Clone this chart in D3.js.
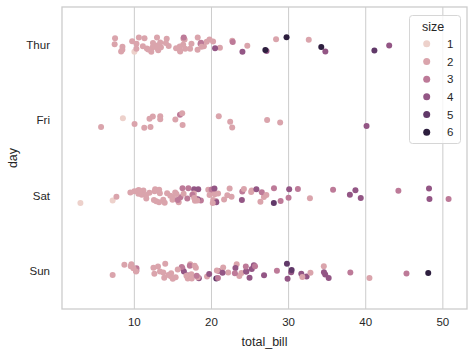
<!DOCTYPE html>
<html><head><meta charset="utf-8">
<script src="https://cdn.jsdelivr.net/npm/d3@7/dist/d3.min.js"></script>
<style>
html,body{margin:0;padding:0;background:#fff;}
text{font-family:"Liberation Sans",Arial,sans-serif;fill:#262626;}
</style></head><body>
<svg id="chart" width="474" height="356"></svg>
<script>
// ---- data (seaborn "tips" dataset) ----
const categories = ["Thur", "Fri", "Sat", "Sun"];
const sizeLevels = [1, 2, 3, 4, 5, 6];
const xTicks = [10, 20, 30, 40, 50];
const totalBill = [
16.99,10.34,21.01,23.68,24.59,25.29,8.77,26.88,15.04,14.78,10.27,35.26,15.42,18.43,14.83,21.58,10.33,16.29,16.97,
20.65,17.92,20.29,15.77,39.42,19.82,17.81,13.37,12.69,21.7,19.65,9.55,18.35,15.06,20.69,17.78,24.06,16.31,16.93,18.69,31.27,16.04,
17.46,13.94,9.68,30.4,18.29,22.23,32.4,28.55,18.04,12.54,10.29,34.81,9.94,25.56,19.49,
38.01,26.41,11.24,48.27,20.29,13.81,11.02,18.29,17.59,20.08,16.45,3.07,20.23,15.01,12.02,17.07,26.86,25.28,14.73,10.51,17.92,
27.2,22.76,17.29,19.44,16.66,10.07,32.68,15.98,34.83,13.03,18.28,24.71,21.16,
28.97,22.49,5.75,16.32,22.75,40.17,27.28,12.03,21.01,12.46,11.35,15.38,
44.3,22.42,20.92,15.36,20.49,25.21,18.24,14.31,14.0,7.25,
38.07,23.95,25.71,17.31,29.93,
10.65,12.43,24.08,11.69,13.42,14.26,15.95,12.48,29.8,8.52,14.52,11.38,22.82,19.08,20.27,11.17,12.26,18.26,8.51,10.33,14.15,16.0,13.16,17.47,34.3,41.19,27.05,16.43,8.35,18.64,11.87,9.78,7.51,
14.07,13.13,17.26,24.55,19.77,29.85,48.17,25.0,13.39,16.49,21.5,12.66,16.21,13.81,17.51,24.52,20.76,31.71,
10.59,10.63,50.81,15.81,
7.25,31.85,16.82,32.9,17.89,14.48,9.6,34.63,34.65,23.33,45.35,23.17,40.55,20.69,20.9,30.46,18.15,23.1,15.69,
19.81,28.44,15.48,16.58,7.56,10.34,43.11,13.0,13.51,18.71,12.74,13.0,16.4,20.53,16.47,
26.59,38.73,24.27,12.76,30.06,25.89,48.33,13.27,28.17,12.9,28.15,11.59,7.74,30.14,
12.16,13.42,8.58,15.98,13.42,16.27,10.09,
20.45,13.28,22.12,24.01,15.69,11.61,10.77,15.53,10.07,12.6,32.83,35.83,29.03,27.18,22.67,17.82,
18.78];
const day = [
"Sun","Sun","Sun","Sun","Sun","Sun","Sun","Sun","Sun","Sun","Sun","Sun","Sun","Sun","Sun","Sun","Sun","Sun","Sun",
"Sat","Sat","Sat","Sat","Sat","Sat","Sat","Sat","Sat","Sat","Sat","Sat","Sat","Sat","Sat","Sat","Sat","Sat","Sat","Sat","Sat","Sat",
"Sun","Sun","Sun","Sun","Sun","Sun","Sun","Sun","Sun","Sun","Sun","Sun","Sun","Sun","Sun",
"Sat","Sat","Sat","Sat","Sat","Sat","Sat","Sat","Sat","Sat","Sat","Sat","Sat","Sat","Sat","Sat","Sat","Sat","Sat","Sat","Sat",
"Thur","Thur","Thur","Thur","Thur","Thur","Thur","Thur","Thur","Thur","Thur","Thur","Thur",
"Fri","Fri","Fri","Fri","Fri","Fri","Fri","Fri","Fri","Fri","Fri","Fri",
"Sat","Sat","Sat","Sat","Sat","Sat","Sat","Sat","Sat","Sat",
"Sun","Sun","Sun","Sun","Sun",
"Thur","Thur","Thur","Thur","Thur","Thur","Thur","Thur","Thur","Thur","Thur","Thur","Thur","Thur","Thur","Thur","Thur","Thur","Thur","Thur","Thur","Thur","Thur","Thur","Thur","Thur","Thur","Thur","Thur","Thur","Thur","Thur","Thur",
"Sun","Sun","Sun","Sun","Sun","Sun","Sun","Sun","Sun","Sun","Sun","Sun","Sun","Sun","Sun","Sun","Sun","Sun",
"Sat","Sat","Sat","Sat",
"Sun","Sun","Sun","Sun","Sun","Sun","Sun","Sun","Sun","Sun","Sun","Sun","Sun","Sun","Sun","Sun","Sun","Sun","Sun",
"Thur","Thur","Thur","Thur","Thur","Thur","Thur","Thur","Thur","Thur","Thur","Thur","Thur","Thur","Thur",
"Sat","Sat","Sat","Sat","Sat","Sat","Sat","Sat","Sat","Sat","Sat","Sat","Sat","Sat",
"Fri","Fri","Fri","Fri","Fri","Fri","Fri",
"Sat","Sat","Sat","Sat","Sat","Sat","Sat","Sat","Sat","Sat","Sat","Sat","Sat","Sat","Sat","Sat",
"Thur"];
const partySize = [
2,3,3,2,4,4,2,4,2,2,2,4,2,4,2,2,3,3,3,
3,2,2,2,4,2,4,2,2,2,2,2,4,2,4,2,3,3,3,3,3,3,
2,2,2,4,2,2,4,3,2,2,2,4,2,4,2,
4,2,2,4,2,2,2,4,3,3,2,1,2,2,2,3,2,2,2,2,2,
4,2,2,2,2,1,2,2,4,2,2,2,2,
2,2,2,2,2,4,2,2,2,2,2,2,
3,2,2,2,2,2,2,2,2,1,
3,2,3,2,4,
2,2,4,2,2,2,2,2,6,2,2,2,3,2,2,2,2,2,2,2,2,2,2,2,6,5,6,2,2,3,2,2,2,
2,2,3,4,4,5,6,4,2,4,4,2,3,2,2,3,2,4,
2,2,3,2,
2,2,2,2,2,2,2,2,4,2,3,4,2,5,3,5,3,3,2,
2,2,2,2,2,2,4,2,2,3,2,2,2,4,3,
3,4,2,2,3,4,4,2,3,2,5,2,2,4,
2,2,1,3,2,2,2,
4,2,2,4,3,2,2,2,2,2,2,3,3,2,2,2,
2];
const paletteColors = ["#edd1cb", "#daa4ac", "#bd7a98", "#935685", "#613969", "#2d1e3e"];

// ---- layout ----
const svg = d3.select("#chart");
const L = 62, R = 467, T = 7, B = 309;
const x = d3.scaleLinear().domain([0.683, 53.197]).range([L, R]);
const yIdx = d3.scaleLinear().domain([-0.5, 3.5]).range([T, B]);
const color = d3.scaleOrdinal().domain(sizeLevels).range(paletteColors);

svg.append("rect").attr("x", L).attr("y", T).attr("width", R - L).attr("height", B - T).attr("fill", "#fff");

// vertical grid via axis
const gx = svg.append("g").attr("transform", `translate(0,${B})`)
  .call(d3.axisBottom(x).tickValues(xTicks).tickSize(-(B - T)).tickPadding(9).tickFormat(d3.format("d")));
gx.select(".domain").remove();
gx.selectAll(".tick line").attr("stroke", "#cccccc").attr("stroke-width", 1);
gx.selectAll(".tick text").attr("font-size", "11.5px").attr("fill", "#262626")
  .attr("font-family", '"Liberation Sans",Arial,sans-serif');

// y axis (categorical, no grid)
const yBand = d3.scalePoint().domain(categories).range([yIdx(0), yIdx(3)]);
const gy = svg.append("g").attr("transform", `translate(${L},0)`)
  .call(d3.axisLeft(yBand).tickSize(0).tickPadding(12));
gy.select(".domain").remove();
gy.selectAll(".tick text").attr("font-size", "11.5px").attr("fill", "#262626")
  .attr("font-family", '"Liberation Sans",Arial,sans-serif');

// deterministic jitter offsets (seeded), +/-0.1 category width
function mulberry32(a){return function(){a|=0;a=a+0x6D2B79F5|0;let t=Math.imul(a^a>>>15,1|a);t=t+Math.imul(t^t>>>7,61|t)^t;return((t^t>>>14)>>>0)/4294967296;}}
const rng = mulberry32(12345);
const jitter = totalBill.map(() => (rng() * 2 - 1) * 0.1);

const pts = totalBill.map((v, i) => ({ v, d: day[i], s: partySize[i], j: jitter[i] }));
const plotPts = [];
categories.forEach(c => pts.forEach(p => { if (p.d === c) plotPts.push(p); }));

svg.append("g").selectAll("circle").data(plotPts).join("circle")
  .attr("cx", d => x(d.v))
  .attr("cy", d => yIdx(categories.indexOf(d.d) + d.j))
  .attr("r", 3)
  .attr("fill", d => color(d.s));

// spines
svg.append("rect").attr("x", L).attr("y", T).attr("width", R - L).attr("height", B - T)
  .attr("fill", "none").attr("stroke", "#cccccc").attr("stroke-width", 1.3);

// axis labels
svg.append("text").attr("x", (L + R) / 2).attr("y", 346).attr("text-anchor", "middle")
  .attr("font-size", "12.5px").text("total_bill");
svg.append("text").attr("transform", `translate(17,${(T + B) / 2}) rotate(-90)`)
  .attr("text-anchor", "middle").attr("font-size", "12.5px").text("day");

// legend
const lg = svg.append("g");
lg.append("rect").attr("x", 409.5).attr("y", 15.5).attr("width", 51).attr("height", 128)
  .attr("rx", 3).attr("fill", "#fff").attr("fill-opacity", 0.8).attr("stroke", "#d6d6d6").attr("stroke-width", 1);
lg.append("text").attr("x", 433).attr("y", 30.5).attr("text-anchor", "middle").attr("font-size", "12.5px").text("size");
const ly = d3.scalePoint().domain(sizeLevels).range([43.7, 132.3]);
sizeLevels.forEach(s => {
  lg.append("circle").attr("cx", 426.7).attr("cy", ly(s)).attr("r", 3.5).attr("fill", color(s));
  lg.append("text").attr("x", 447).attr("y", ly(s)).attr("dy", "0.36em").attr("font-size", "11.5px").text(s);
});
</script></body></html>
